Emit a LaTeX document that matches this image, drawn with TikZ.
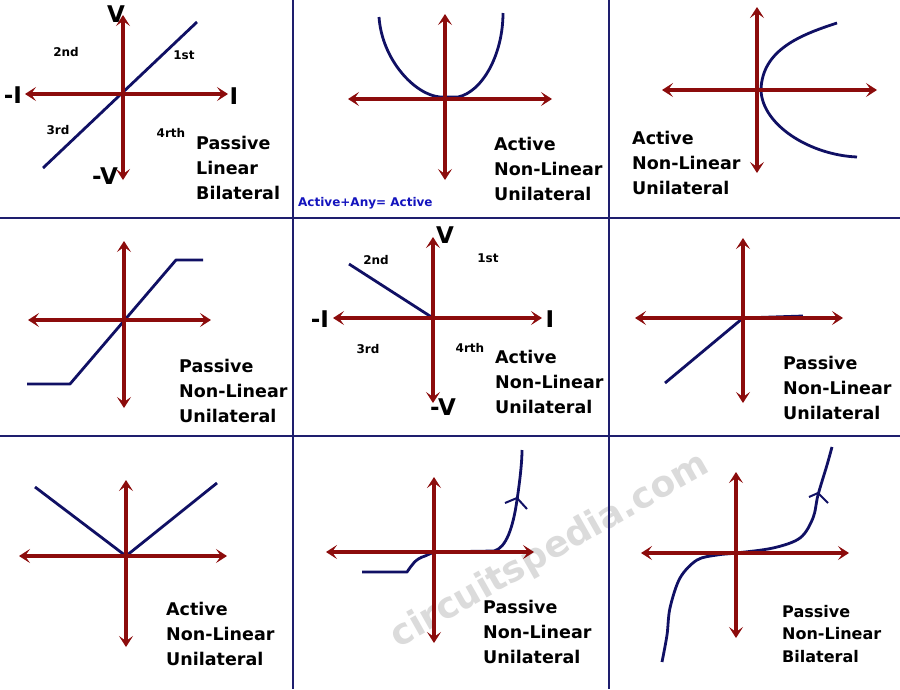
\documentclass[tikz,border=0pt]{standalone}
\usepackage{fontspec}
\setmainfont{DejaVu Sans}
\usetikzlibrary{arrows.meta}
\definecolor{axisred}{RGB}{140,12,12}
\definecolor{curveblue}{RGB}{16,16,100}
\definecolor{gridblue}{RGB}{30,30,110}
\definecolor{notecol}{RGB}{20,20,190}
\tikzset{
  axis/.style={draw=axisred,line width=3.6pt,{Stealth[length=11pt,width=14pt,inset=5pt]}-{Stealth[length=11pt,width=14pt,inset=5pt]}},
  curve/.style={draw=curveblue,line width=2.8pt,line join=round},
  grid/.style={draw=gridblue,line width=1.8pt},
  kind/.style={font=\bfseries\fontsize{17.5}{25}\selectfont,align=left,anchor=north west,inner sep=0pt},
  kindsm/.style={font=\bfseries\fontsize{16}{22.5}\selectfont,align=left,anchor=north west,inner sep=0pt},
  quad/.style={font=\bfseries\fontsize{12}{13}\selectfont,inner sep=0pt},
  axlab/.style={font=\bfseries\fontsize{23}{25}\selectfont,inner sep=0pt},
  note/.style={font=\bfseries\fontsize{12}{13}\selectfont,text=notecol,anchor=west,inner sep=0pt},
  wmark/.style={font=\bfseries\fontsize{36}{40}\selectfont,text=black!14,rotate=29.5}
}
\begin{document}
\begin{tikzpicture}[x=1pt,y=-1pt]
\useasboundingbox (0,0) rectangle (900,689);
\fill[white] (0,0) rectangle (900,689);
% watermark
\node[wmark] (wm) at (550,551) {circuitspedia.com};
% grid
\draw[grid] (293,0) -- (293,689);
\draw[grid] (609,0) -- (609,689);
\draw[grid] (0,218) -- (900,218);
\draw[grid] (0,436) -- (900,436);

% ---------- Panel 1 ----------
\draw[curve] (43,168) -- (197,22);
\draw[axis] (25,94) -- (228,94);
\draw[axis] (123,15) -- (123,180);
\node[axlab] (v1) at (116,14) {V};
\node[axlab] (mi1) at (13,95) {-I};
\node[axlab] (i1) at (234,96) {I};
\node[axlab] (mv1) at (105,176) {-V};
\node[quad] (q21) at (66,52) {2nd};
\node[quad] (q11) at (184,55) {1st};
\node[quad] (q31) at (58,130) {3rd};
\node[quad] (q41) at (171,133) {4rth};
\node[kind] (k1) at (196,136) {Passive\\Linear\\Bilateral};

% ---------- Panel 2 ----------
\draw[curve] (379,17) .. controls (382,60) and (415,95) .. (440,97) -- (458,97) .. controls (482,92) and (503,55) .. (503,13);
\draw[axis] (348,99) -- (552,99);
\draw[axis] (445,14) -- (445,180);
\node[kind] (k2) at (494,137) {Active\\Non-Linear\\Unilateral};
\node[note] (n2) at (298,203) {Active+Any= Active};

% ---------- Panel 3 ----------
\draw[curve] (837,23) .. controls (800,35) and (762,50) .. (761,90) .. controls (762,125) and (810,155) .. (857,157);
\draw[axis] (662,90) -- (877,90);
\draw[axis] (757,7) -- (757,173);
\node[kind] (k3) at (632,131) {Active\\Non-Linear\\Unilateral};

% ---------- Panel 4 ----------
\draw[curve] (27,384) -- (70,384) -- (176,260) -- (203,260);
\draw[axis] (28,320) -- (211,320);
\draw[axis] (124,241) -- (124,408);
\node[kind] (k4) at (179,359) {Passive\\Non-Linear\\Unilateral};

% ---------- Panel 5 ----------
\draw[curve] (349,264) -- (433,318) -- (508,318);
\draw[axis] (333,318) -- (542,318);
\draw[axis] (433,237) -- (433,403);
\node[axlab] (v5) at (445,235) {V};
\node[axlab] (mi5) at (320,319) {-I};
\node[axlab] (i5) at (550,319) {I};
\node[axlab] (mv5) at (443,407) {-V};
\node[quad] (q25) at (376,260) {2nd};
\node[quad] (q15) at (488,258) {1st};
\node[quad] (q35) at (368,349) {3rd};
\node[quad] (q45) at (470,348) {4rth};
\node[kind] (k5) at (495,350) {Active\\Non-Linear\\Unilateral};

% ---------- Panel 6 ----------
\draw[curve] (665,383) -- (743,318) -- (803,316);
\draw[axis] (635,318) -- (843,318);
\draw[axis] (743,238) -- (743,403);
\node[kind] (k6) at (783,356) {Passive\\Non-Linear\\Unilateral};

% ---------- Panel 7 ----------
\draw[curve] (35,487) -- (126,556) -- (217,483);
\draw[axis] (19,556) -- (227,556);
\draw[axis] (126,480) -- (126,647);
\node[kind] (k7) at (166,602) {Active\\Non-Linear\\Unilateral};

% ---------- Panel 8 ----------
\draw[curve] (362,572) -- (407,572) .. controls (412,565) and (415,559) .. (425,556) -- (434,552) -- (494,551) .. controls (506,548) and (513,528) .. (517,500) .. controls (520,480) and (522,462) .. (522,450);
\draw[curve,line width=2pt] (505,503) -- (517,498) -- (527,509);
\draw[axis] (326,552) -- (534,552);
\draw[axis] (434,477) -- (434,643);
\node[kind] (k8) at (483,600) {Passive\\Non-Linear\\Unilateral};

% ---------- Panel 9 ----------
\draw[curve] plot[smooth,tension=0.55] coordinates {(662,662) (667,635) (670,608) (680,578) (697,560) (717,555) (736,553) (773,548) (800,538) (813,518) (818,495) (827,465) (832,447)};
\draw[curve,line width=2pt] (809,497) -- (818,493) -- (828,503);
\draw[axis] (641,553) -- (849,553);
\draw[axis] (736,472) -- (736,638);
\node[kindsm] (k9) at (782,605) {Passive\\Non-Linear\\Bilateral};
\end{tikzpicture}
\end{document}
